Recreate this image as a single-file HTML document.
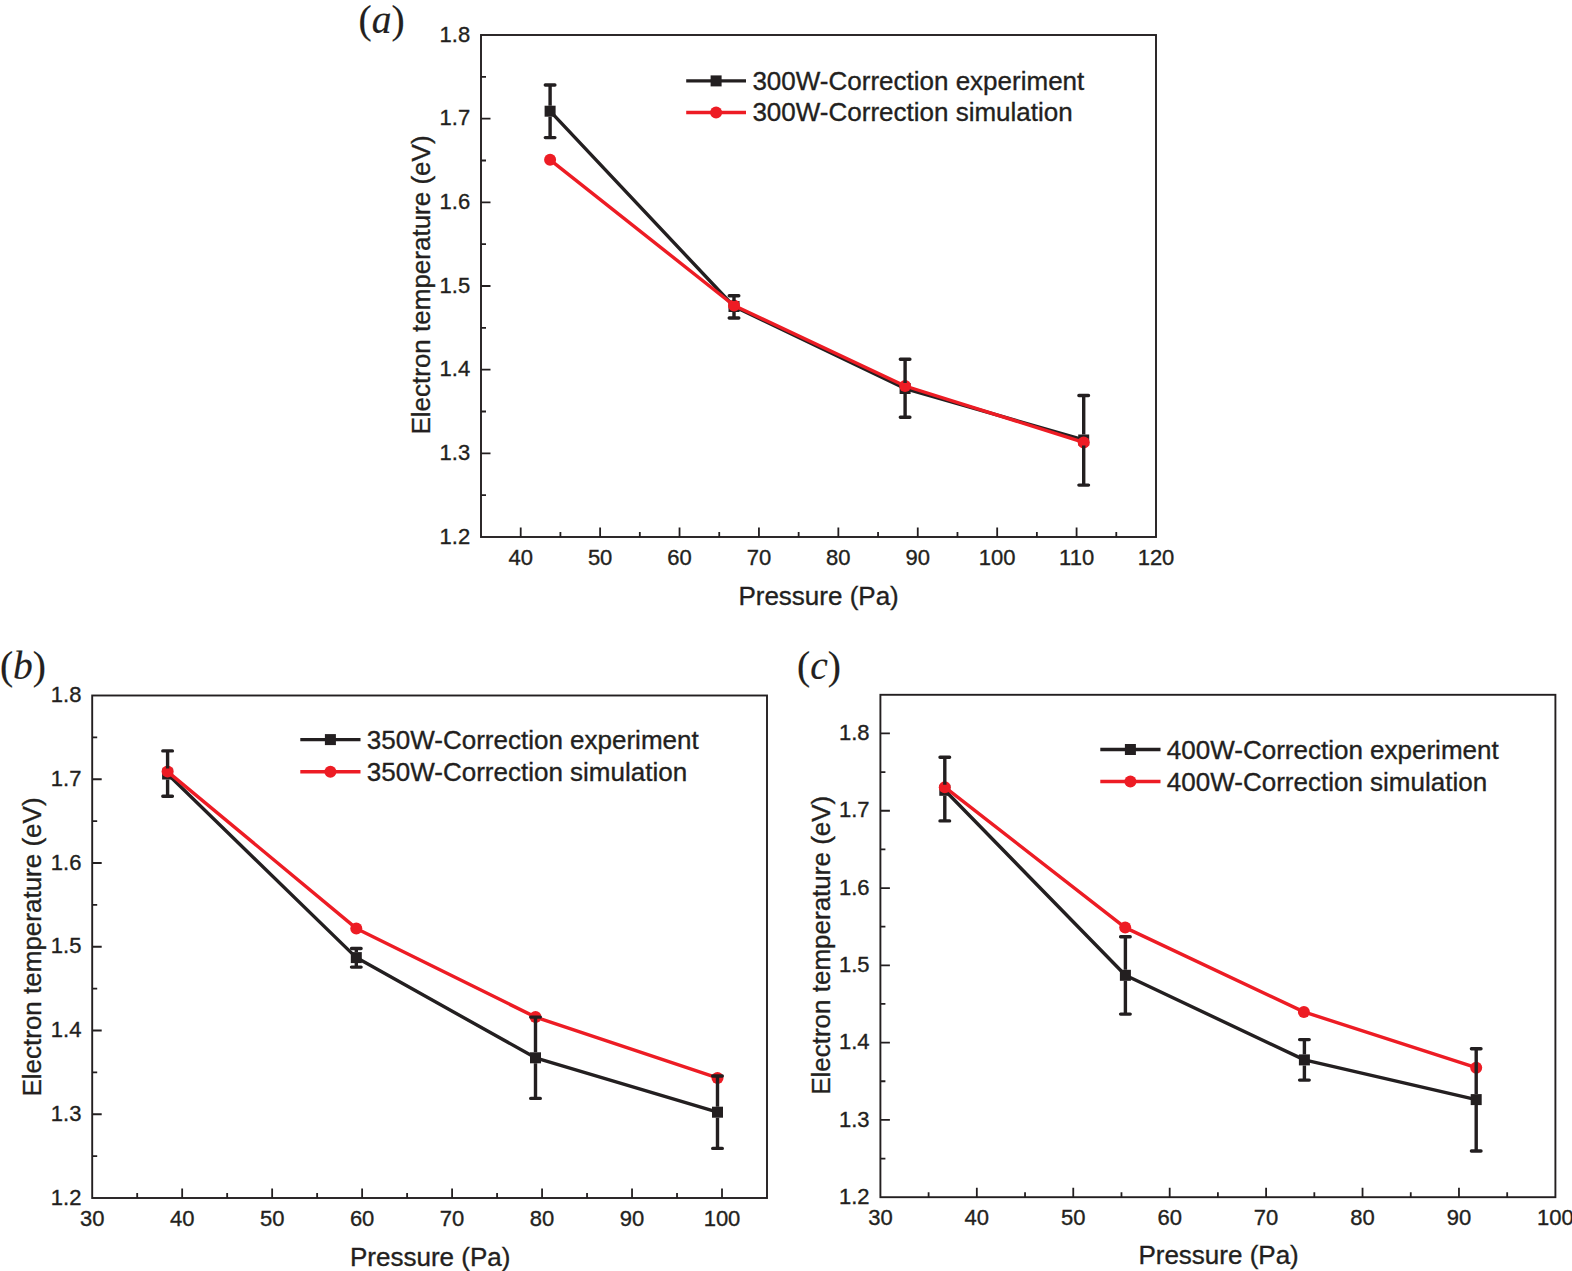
<!DOCTYPE html>
<html lang="en">
<head>
<meta charset="utf-8">
<title>Electron temperature vs pressure</title>
<style>
html,body{margin:0;padding:0;background:#fff;}
body{width:1572px;height:1271px;overflow:hidden;}
svg{display:block;font-family:"Liberation Sans",sans-serif;}
svg text{stroke:#231f20;stroke-width:0.35px;}
svg text.pl{stroke-width:0.2px;}
</style>
</head>
<body>
<svg width="1572" height="1271" viewBox="0 0 1572 1271">
<rect width="1572" height="1271" fill="#fff"/>
<g id="chart-a">
<rect x="481" y="35" width="675.00" height="502.00" fill="none" stroke="#231f20" stroke-width="1.9"/>
<path d="M520.71 537.0 v-9.5 M560.41 537.0 v-5 M600.12 537.0 v-9.5 M639.82 537.0 v-5 M679.53 537.0 v-9.5 M719.24 537.0 v-5 M758.94 537.0 v-9.5 M798.65 537.0 v-5 M838.35 537.0 v-9.5 M878.06 537.0 v-5 M917.76 537.0 v-9.5 M957.47 537.0 v-5 M997.18 537.0 v-9.5 M1036.88 537.0 v-5 M1076.59 537.0 v-9.5 M1116.29 537.0 v-5 M481 495.17 h5 M481 453.33 h9.5 M481 411.50 h5 M481 369.67 h9.5 M481 327.83 h5 M481 286.00 h9.5 M481 244.17 h5 M481 202.33 h9.5 M481 160.50 h5 M481 118.67 h9.5 M481 76.83 h5" fill="none" stroke="#231f20" stroke-width="1.8"/>
<g font-size="22" fill="#231f20">
<text x="520.71" y="564.80" text-anchor="middle">40</text>
<text x="600.12" y="564.80" text-anchor="middle">50</text>
<text x="679.53" y="564.80" text-anchor="middle">60</text>
<text x="758.94" y="564.80" text-anchor="middle">70</text>
<text x="838.35" y="564.80" text-anchor="middle">80</text>
<text x="917.76" y="564.80" text-anchor="middle">90</text>
<text x="997.18" y="564.80" text-anchor="middle">100</text>
<text x="1076.59" y="564.80" text-anchor="middle">110</text>
<text x="1156.00" y="564.80" text-anchor="middle">120</text>
<text x="470.20" y="543.70" text-anchor="end">1.2</text>
<text x="470.20" y="460.03" text-anchor="end">1.3</text>
<text x="470.20" y="376.37" text-anchor="end">1.4</text>
<text x="470.20" y="292.70" text-anchor="end">1.5</text>
<text x="470.20" y="209.03" text-anchor="end">1.6</text>
<text x="470.20" y="125.37" text-anchor="end">1.7</text>
<text x="470.20" y="41.70" text-anchor="end">1.8</text>
</g>
<text x="818.6" y="604.5" font-size="26" fill="#231f20" text-anchor="middle">Pressure (Pa)</text>
<text transform="translate(430 285) rotate(-90)" font-size="26" fill="#231f20" text-anchor="middle">Electron temperature (eV)</text>
<text class="pl" x="358.6" y="32.6" font-family="'Liberation Serif', serif" font-size="39.5" fill="#231f20">(<tspan font-style="italic">a</tspan>)</text>
<polyline points="550.1,111.2 734.0,306.5 905.1,388.5 1083.7,440.0" fill="none" stroke="#231f20" stroke-width="3.4" stroke-linejoin="round"/>
<rect x="544.6" y="105.7" width="11" height="11" fill="#231f20"/>
<rect x="728.5" y="301.0" width="11" height="11" fill="#231f20"/>
<rect x="899.6" y="383.0" width="11" height="11" fill="#231f20"/>
<rect x="1078.2" y="434.5" width="11" height="11" fill="#231f20"/>
<polyline points="550.1,159.8 734.0,305.5 905.1,386.0 1083.7,442.4" fill="none" stroke="#ed1c24" stroke-width="3.4" stroke-linejoin="round"/>
<circle cx="550.1" cy="159.8" r="6" fill="#ed1c24"/>
<circle cx="734.0" cy="305.5" r="6" fill="#ed1c24"/>
<circle cx="905.1" cy="386.0" r="6" fill="#ed1c24"/>
<circle cx="1083.7" cy="442.4" r="6" fill="#ed1c24"/>
<path d="M550.1 85.0V105.7 M550.1 116.7V137.6 M734.0 295.8V301.0 M734.0 312.0V318.0 M905.1 359.2V383.0 M905.1 394.0V417.3 M1083.7 395.5V434.5 M1083.7 445.5V485.1" fill="none" stroke="#231f20" stroke-width="3.4"/>
<path d="M545.3 85.0h9.6M545.3 137.6h9.6 M729.2 295.8h9.6M729.2 318.0h9.6 M900.3 359.2h9.6M900.3 417.3h9.6 M1078.9 395.5h9.6M1078.9 485.1h9.6" fill="none" stroke="#231f20" stroke-width="3.4" stroke-linecap="round"/>
<path d="M686.2 80.9H746.0" stroke="#231f20" stroke-width="3.4"/>
<rect x="710.6" y="75.4" width="11" height="11" fill="#231f20"/>
<path d="M686.2 112.5H746.0" stroke="#ed1c24" stroke-width="3.4"/>
<circle cx="716.1" cy="112.5" r="6" fill="#ed1c24"/>
<text x="752.4" y="89.5" font-size="26" fill="#231f20">300W-Correction experiment</text>
<text x="752.4" y="121.1" font-size="26" fill="#231f20">300W-Correction simulation</text>
</g>
<g id="chart-b">
<rect x="92.2" y="695.5" width="674.80" height="502.50" fill="none" stroke="#231f20" stroke-width="1.9"/>
<path d="M137.19 1198 v-5 M182.17 1198 v-9.5 M227.16 1198 v-5 M272.15 1198 v-9.5 M317.13 1198 v-5 M362.12 1198 v-9.5 M407.11 1198 v-5 M452.09 1198 v-9.5 M497.08 1198 v-5 M542.07 1198 v-9.5 M587.05 1198 v-5 M632.04 1198 v-9.5 M677.03 1198 v-5 M722.01 1198 v-9.5 M92.2 1156.12 h5 M92.2 1114.25 h9.5 M92.2 1072.38 h5 M92.2 1030.50 h9.5 M92.2 988.62 h5 M92.2 946.75 h9.5 M92.2 904.88 h5 M92.2 863.00 h9.5 M92.2 821.13 h5 M92.2 779.25 h9.5 M92.2 737.38 h5" fill="none" stroke="#231f20" stroke-width="1.8"/>
<g font-size="22" fill="#231f20">
<text x="92.20" y="1225.80" text-anchor="middle">30</text>
<text x="182.17" y="1225.80" text-anchor="middle">40</text>
<text x="272.15" y="1225.80" text-anchor="middle">50</text>
<text x="362.12" y="1225.80" text-anchor="middle">60</text>
<text x="452.09" y="1225.80" text-anchor="middle">70</text>
<text x="542.07" y="1225.80" text-anchor="middle">80</text>
<text x="632.04" y="1225.80" text-anchor="middle">90</text>
<text x="722.01" y="1225.80" text-anchor="middle">100</text>
<text x="81.40" y="1204.70" text-anchor="end">1.2</text>
<text x="81.40" y="1120.95" text-anchor="end">1.3</text>
<text x="81.40" y="1037.20" text-anchor="end">1.4</text>
<text x="81.40" y="953.45" text-anchor="end">1.5</text>
<text x="81.40" y="869.70" text-anchor="end">1.6</text>
<text x="81.40" y="785.95" text-anchor="end">1.7</text>
<text x="81.40" y="702.20" text-anchor="end">1.8</text>
</g>
<text x="430.2" y="1265.6" font-size="26" fill="#231f20" text-anchor="middle">Pressure (Pa)</text>
<text transform="translate(41 947) rotate(-90)" font-size="26" fill="#231f20" text-anchor="middle">Electron temperature (eV)</text>
<text class="pl" x="-0.1" y="678.5" font-family="'Liberation Serif', serif" font-size="39.5" fill="#231f20">(<tspan font-style="italic">b</tspan>)</text>
<polyline points="167.6,774.0 356.3,957.6 535.5,1057.8 717.5,1112.2" fill="none" stroke="#231f20" stroke-width="3.4" stroke-linejoin="round"/>
<rect x="162.1" y="768.5" width="11" height="11" fill="#231f20"/>
<rect x="350.8" y="952.1" width="11" height="11" fill="#231f20"/>
<rect x="530.0" y="1052.3" width="11" height="11" fill="#231f20"/>
<rect x="712.0" y="1106.7" width="11" height="11" fill="#231f20"/>
<polyline points="167.6,771.6 356.3,928.4 535.5,1017.1 717.5,1077.9" fill="none" stroke="#ed1c24" stroke-width="3.4" stroke-linejoin="round"/>
<circle cx="167.6" cy="771.6" r="6" fill="#ed1c24"/>
<circle cx="356.3" cy="928.4" r="6" fill="#ed1c24"/>
<circle cx="535.5" cy="1017.1" r="6" fill="#ed1c24"/>
<circle cx="717.5" cy="1077.9" r="6" fill="#ed1c24"/>
<path d="M167.6 750.9V768.5 M167.6 779.5V796.3 M356.3 948.5V952.1 M356.3 963.1V967.1 M535.5 1017.1V1052.3 M535.5 1063.3V1098.4 M717.5 1076.0V1106.7 M717.5 1117.7V1148.4" fill="none" stroke="#231f20" stroke-width="3.4"/>
<path d="M162.8 750.9h9.6M162.8 796.3h9.6 M351.5 948.5h9.6M351.5 967.1h9.6 M530.7 1017.1h9.6M530.7 1098.4h9.6 M712.7 1076.0h9.6M712.7 1148.4h9.6" fill="none" stroke="#231f20" stroke-width="3.4" stroke-linecap="round"/>
<path d="M300.3 739.6H360.5" stroke="#231f20" stroke-width="3.4"/>
<rect x="324.9" y="734.1" width="11" height="11" fill="#231f20"/>
<path d="M300.3 771.7H360.5" stroke="#ed1c24" stroke-width="3.4"/>
<circle cx="330.4" cy="771.7" r="6" fill="#ed1c24"/>
<text x="366.8" y="748.8000000000001" font-size="26" fill="#231f20">350W-Correction experiment</text>
<text x="366.8" y="780.9000000000001" font-size="26" fill="#231f20">350W-Correction simulation</text>
</g>
<g id="chart-c">
<rect x="880.4" y="694.8" width="675.00" height="502.40" fill="none" stroke="#231f20" stroke-width="1.9"/>
<path d="M928.61 1197.2 v-5 M976.83 1197.2 v-9.5 M1025.04 1197.2 v-5 M1073.26 1197.2 v-9.5 M1121.47 1197.2 v-5 M1169.69 1197.2 v-9.5 M1217.90 1197.2 v-5 M1266.11 1197.2 v-9.5 M1314.33 1197.2 v-5 M1362.54 1197.2 v-9.5 M1410.76 1197.2 v-5 M1458.97 1197.2 v-9.5 M1507.19 1197.2 v-5 M880.4 1158.55 h5 M880.4 1119.91 h9.5 M880.4 1081.26 h5 M880.4 1042.62 h9.5 M880.4 1003.97 h5 M880.4 965.32 h9.5 M880.4 926.68 h5 M880.4 888.03 h9.5 M880.4 849.38 h5 M880.4 810.74 h9.5 M880.4 772.09 h5 M880.4 733.45 h9.5" fill="none" stroke="#231f20" stroke-width="1.8"/>
<g font-size="22" fill="#231f20">
<text x="880.40" y="1224.70" text-anchor="middle">30</text>
<text x="976.83" y="1224.70" text-anchor="middle">40</text>
<text x="1073.26" y="1224.70" text-anchor="middle">50</text>
<text x="1169.69" y="1224.70" text-anchor="middle">60</text>
<text x="1266.11" y="1224.70" text-anchor="middle">70</text>
<text x="1362.54" y="1224.70" text-anchor="middle">80</text>
<text x="1458.97" y="1224.70" text-anchor="middle">90</text>
<text x="1555.40" y="1224.70" text-anchor="middle">100</text>
<text x="869.60" y="1203.90" text-anchor="end">1.2</text>
<text x="869.60" y="1126.61" text-anchor="end">1.3</text>
<text x="869.60" y="1049.32" text-anchor="end">1.4</text>
<text x="869.60" y="972.02" text-anchor="end">1.5</text>
<text x="869.60" y="894.73" text-anchor="end">1.6</text>
<text x="869.60" y="817.44" text-anchor="end">1.7</text>
<text x="869.60" y="740.15" text-anchor="end">1.8</text>
</g>
<text x="1218.6" y="1264.3" font-size="26" fill="#231f20" text-anchor="middle">Pressure (Pa)</text>
<text transform="translate(830 945.3) rotate(-90)" font-size="26" fill="#231f20" text-anchor="middle">Electron temperature (eV)</text>
<text class="pl" x="797" y="678.5" font-family="'Liberation Serif', serif" font-size="39.5" fill="#231f20">(<tspan font-style="italic">c</tspan>)</text>
<polyline points="944.8,790.3 1125.4,975.3 1304.4,1059.9 1476.2,1099.6" fill="none" stroke="#231f20" stroke-width="3.4" stroke-linejoin="round"/>
<rect x="939.3" y="784.8" width="11" height="11" fill="#231f20"/>
<rect x="1119.9" y="969.8" width="11" height="11" fill="#231f20"/>
<rect x="1298.9" y="1054.4" width="11" height="11" fill="#231f20"/>
<rect x="1470.7" y="1094.1" width="11" height="11" fill="#231f20"/>
<polyline points="944.8,787.2 1125.2,927.6 1303.9,1011.9 1476.2,1067.7" fill="none" stroke="#ed1c24" stroke-width="3.4" stroke-linejoin="round"/>
<circle cx="944.8" cy="787.2" r="6" fill="#ed1c24"/>
<circle cx="1125.2" cy="927.6" r="6" fill="#ed1c24"/>
<circle cx="1303.9" cy="1011.9" r="6" fill="#ed1c24"/>
<circle cx="1476.2" cy="1067.7" r="6" fill="#ed1c24"/>
<path d="M944.8 757.2V784.8 M944.8 795.8V820.9 M1125.4 936.7V969.8 M1125.4 980.8V1014.1 M1304.4 1039.6V1054.4 M1304.4 1065.4V1080.1 M1476.2 1048.7V1094.1 M1476.2 1105.1V1151.0" fill="none" stroke="#231f20" stroke-width="3.4"/>
<path d="M940.0 757.2h9.6M940.0 820.9h9.6 M1120.6 936.7h9.6M1120.6 1014.1h9.6 M1299.6 1039.6h9.6M1299.6 1080.1h9.6 M1471.4 1048.7h9.6M1471.4 1151.0h9.6" fill="none" stroke="#231f20" stroke-width="3.4" stroke-linecap="round"/>
<path d="M1100.3 749.5H1160.5" stroke="#231f20" stroke-width="3.4"/>
<rect x="1124.9" y="744.0" width="11" height="11" fill="#231f20"/>
<path d="M1100.3 781.5H1160.5" stroke="#ed1c24" stroke-width="3.4"/>
<circle cx="1130.4" cy="781.5" r="6" fill="#ed1c24"/>
<text x="1166.8" y="758.7" font-size="26" fill="#231f20">400W-Correction experiment</text>
<text x="1166.8" y="790.7" font-size="26" fill="#231f20">400W-Correction simulation</text>
</g>
</svg>
</body>
</html>
